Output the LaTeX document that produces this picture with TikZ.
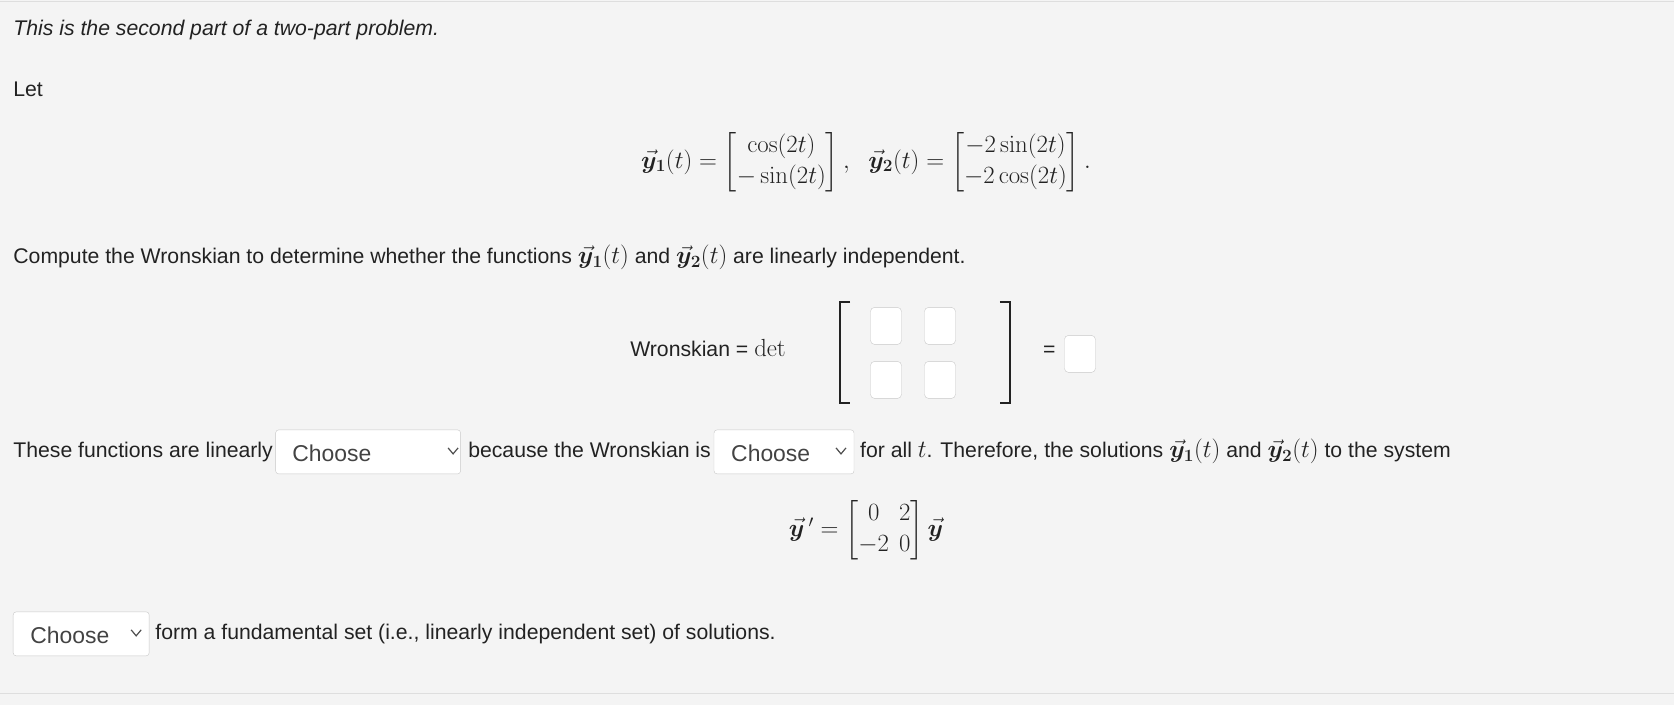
\documentclass[tikz,border=0pt]{standalone}
\usepackage{amsmath,bm}
\usepackage[no-math]{fontspec}
\setmainfont{Liberation Sans}
\definecolor{bg}{HTML}{F4F4F4}
\definecolor{bd}{HTML}{C8C8C8}
\definecolor{tx}{HTML}{222222}
\newcommand{\vy}[1]{\vec{\bm y}_{\bm{#1}}}
\newcommand{\mf}{\fontsize{25}{29}\selectfont}
\newcommand{\tf}{\fontsize{21.3}{25}\selectfont}
\begin{document}
\begin{tikzpicture}[x=1bp,y=-1bp,
  txt/.style={anchor=base west,inner sep=0,text=tx,font=\tf},
  mth/.style={anchor=center,inner sep=0,text=tx,font=\fontsize{26}{31}\selectfont},
  cell/.style={draw=bd,fill=white,rounded corners=4bp,minimum width=31bp,minimum height=37bp,inner sep=0},
  dd/.style={draw=bd,fill=white,rounded corners=3bp,minimum height=44bp,inner sep=0},
  ddtx/.style={anchor=west,inner sep=0,text=tx!85,font=\fontsize{23}{27}\selectfont},
  chev/.style={draw=tx!80,line width=1.2bp}]
\path[fill=bg] (0,0) rectangle (1674,705);
\draw[bd!60] (0,1) -- (1674,1);
\draw[bd!60] (0,693) -- (1674,693);
\node[txt,font=\tf\itshape] (t1) at (13,36) {This is the second part of a two-part problem.};
\node[txt] (t2) at (13,97) {Let};
\node[mth] (e1) at (866,162) {$\vy{1}(t)=\begin{bmatrix}\cos(2t)\\-\sin(2t)\end{bmatrix},\ \ \vy{2}(t)=\begin{bmatrix}-2\sin(2t)\\-2\cos(2t)\end{bmatrix}.$};
\node[txt] (t3) at (13,264) {Compute the Wronskian to determine whether the functions {\mf$\vy{1}(t)$} and {\mf$\vy{2}(t)$} are linearly independent.};
\node[txt] (w) at (630,357) {Wronskian = {\mf$\det$}};
\draw[tx,line width=1.3bp] (850,302) -- (840,302) -- (840,403) -- (850,403);
\draw[tx,line width=1.3bp] (1000,302) -- (1010,302) -- (1010,403) -- (1000,403);
\node[cell] (c11) at (886,326) {};
\node[cell] (c12) at (940,326) {};
\node[cell] (c21) at (886,380) {};
\node[cell] (c22) at (940,380) {};
\node[txt] (eq) at (1043,357) {=};
\node[cell] (c0) at (1080,354) {};
\node[txt] (t4) at (13,458) {These functions are linearly};
\node[dd,minimum width=185bp] (d1) at (368,452) {};
\node[ddtx] at (292,453) {Choose};
\draw[chev] (448,448) -- (453,454) -- (458,448);
\node[txt] (t5) at (468,458) {because the Wronskian is};
\node[dd,minimum width=140bp] (d2) at (784,452) {};
\node[ddtx] at (731,453) {Choose};
\draw[chev] (836,448) -- (841,454) -- (846,448);
\node[txt] (t6) at (860,458) {for all {\mf$t$}. Therefore, the solutions {\mf$\vy{1}(t)$} and {\mf$\vy{2}(t)$} to the system};
\node[mth] (e2) at (866,530) {$\vec{\bm y}\,'=\begin{bmatrix}0&2\\-2&0\end{bmatrix}\vec{\bm y}$};
\node[dd,minimum width=136bp] (d3) at (81,634) {};
\node[ddtx] at (30,635) {Choose};
\draw[chev] (131,630) -- (136,636) -- (141,630);
\node[txt] (t7) at (155,640) {form a fundamental set (i.e., linearly independent set) of solutions.};
\end{tikzpicture}
\end{document}
